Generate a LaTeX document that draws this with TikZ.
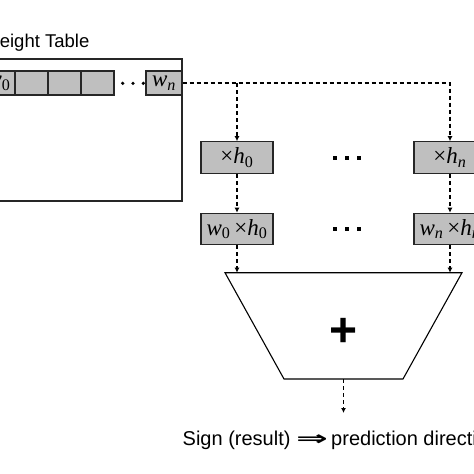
\documentclass[tikz,border=0pt]{standalone}
\usepackage{fontspec}
\setmainfont{Liberation Sans}
\newfontfamily\tms{Liberation Serif}
\newfontfamily\dvs{DejaVu Sans}
\usetikzlibrary{arrows.meta}

\newcommand\var[2]{{\tms\itshape #1\textsubscript{\upshape #2}}}

\begin{document}
\begin{tikzpicture}[x=1pt, y=-1pt,
		cell/.style={draw=black!85, line width=1.1pt, fill=gray!50, minimum width=33pt, minimum height=24pt, inner sep=0pt, font=\fontsize{23}{23}\selectfont},
		mulbox/.style={cell, minimum width=72pt, minimum height=31.5pt},
		flow/.style={line width=1.2pt, dash pattern=on 4pt off 3pt, -{Latex[length=5pt, width=5pt]}}]
	\useasboundingbox (0,0) rectangle (474,474);
	\clip (0,0) rectangle (474,474);
	
	%% weight table
	\node[anchor=base west, inner sep=0pt, font=\fontsize{18.5}{18.5}\selectfont] (title) at (-17.5,47.5) {Weight Table};
	\node[draw=black!85, line width=1.1pt, minimum width=212pt, minimum height=142pt, inner sep=0pt] (table) at (76,130) {};
	\node[cell] (w0) at (-1.5,83) {\var{w}{0}};
	\foreach \i in {1,2,3}
		\node[cell] (c\i) at (-1.5+33*\i,83) {};
	\node[cell, minimum width=36pt] (wn) at (164,83) {\var{w}{\itshape n}};
	\foreach \dx in {122.7,133,143.3}
		\fill (\dx,83.3) circle (1.8pt);
	
	%% products
	\node[mulbox] (h0) at (237,157.5) {{\tms ×}\var{h}{0}};
	\node[mulbox] (hn) at (450,157.5) {{\tms ×}\var{h}{\itshape n}};
	\node[mulbox] (p0) at (237,229) {\var{w}{0}\,{\tms ×}\var{h}{0}};
	\node[mulbox] (pn) at (450,229) {\var{w}{\itshape n}\,{\tms ×}\var{h}{\itshape n}};
	\foreach \dx in {335,347,359} {
		\fill (\dx-2,155.5) rectangle ++(4,4);
		\fill (\dx-2,227) rectangle ++(4,4);
	}
	
	%% adder
	\coordinate (sumtop) at (343.5,272.7);
	\coordinate (sumbot) at (343.5,379);
	\draw[line width=1.1pt] (225,272.7) -- (462,272.7) -- (403,379) -- (284,379) -- cycle;
	\node[font=\bfseries\fontsize{48}{48}\selectfont] (plus) at (343.5,332) {+};
	\node[anchor=base west, inner sep=0pt, font=\fontsize{20}{20}\selectfont] (sign) at (182.5,445) {Sign (result) \scalebox{1.9}[1]{\dvs\bfseries ⇒}\,prediction direction};
	\coordinate (out) at (343.5,413);
	
	%% connectors
	\draw[flow] (wn.east) -- (hn.north |- wn.east) -- (hn.north);
	\draw[flow] (h0.north |- wn.east) -- (h0.north);
	\draw[flow] (h0) -- (p0);
	\draw[flow] (hn) -- (pn);
	\draw[flow] (p0.south) -- (p0.south |- sumtop);
	\draw[flow] (pn.south) -- (pn.south |- sumtop);
	\draw[flow] (sumbot) -- (out);
\end{tikzpicture}
\end{document}
